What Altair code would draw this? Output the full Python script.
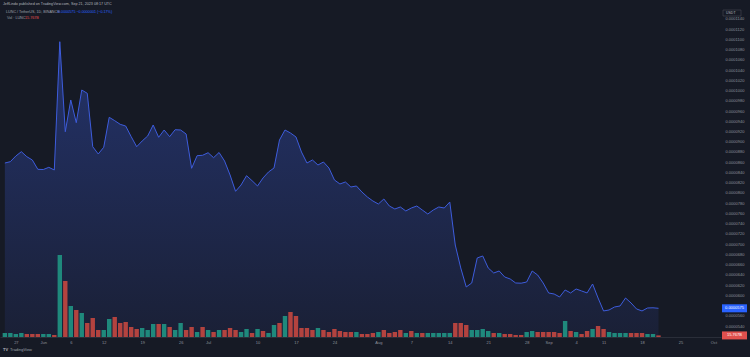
import altair as alt
import pandas as pd

# ---------------- data ----------------
# day index: 0 = May 27 2023, 117 = Sep 21 2023
day = list(range(-2, 118))
# LUNC/USDT daily close, in units of 1e-7 USDT
price_e7 = [
    858.5, 861.1, 872.2, 880.6, 870.8, 864.4, 846.2, 845.8, 850.1, 844.9,
    1095.2, 919.6, 981.5, 937.2, 1001.0, 994.5, 890.3, 876.1, 889.2, 947.7,
    941.1, 934.0, 930.7, 909.9, 890.3, 901.5, 911.2, 932.7, 908.7, 922.9,
    909.9, 923.5, 922.9, 915.1, 848.2, 872.8, 873.6, 878.6, 868.9, 879.0,
    862.4, 835.1, 803.3, 815.6, 833.8, 824.0, 813.7, 829.3, 841.0, 848.8,
    903.4, 922.9, 917.1, 909.3, 880.0, 858.5, 864.4, 854.6, 860.5, 848.8,
    825.4, 817.6, 821.5, 811.7, 813.7, 802.0, 792.2, 784.4, 778.5, 788.3,
    774.6, 768.8, 772.7, 764.9, 770.7, 774.6, 766.8, 759.0, 766.8, 772.7,
    770.7, 782.4, 698.5, 653.7, 616.6, 624.4, 673.2, 677.1, 653.7, 643.9,
    647.8, 636.1, 632.2, 624.4, 624.0, 626.3, 647.8, 640.0, 624.4, 604.9,
    602.9, 597.1, 610.7, 604.9, 612.7, 608.8, 605.0, 622.4, 595.1, 569.8,
    571.7, 577.6, 579.5, 595.1, 585.4, 573.7, 569.8, 575.6, 576.0, 575.0,
]
# daily volume, billions of LUNC
volume_b = [
    40, 40, 30, 40, 30, 30, 30, 30, 30, 20,
    820, 560, 310, 270, 240, 140, 190, 70, 70, 180,
    200, 140, 150, 100, 80, 90, 70, 130, 130, 130,
    100, 70, 140, 70, 100, 50, 100, 70, 50, 70,
    70, 90, 70, 50, 80, 40, 80, 60, 40, 120,
    140, 210, 250, 210, 90, 90, 70, 90, 70, 50,
    80, 60, 50, 50, 50, 30, 30, 40, 50, 70,
    40, 50, 70, 40, 60, 40, 40, 40, 40, 40,
    40, 40, 140, 140, 120, 70, 70, 80, 60, 40,
    40, 30, 30, 20, 20, 50, 60, 50, 50, 50,
    50, 40, 160, 60, 50, 30, 60, 80, 110, 80,
    50, 40, 40, 40, 40, 40, 40, 30, 30, 15.767,
]
# candle direction per day: U = up (teal), D = down (red)
direction = list(
    "UUUUDDDUUD"
    "UDUDUDDDUU"
    "DDDDDUUUDU"
    "DUUDDUDUDU"
    "DDDUUDUDUU"
    "DUDDDDDUDD"
    "DDDDUDDDUD"
    "DDDUDUDUUU"
    "UUDDDUUUUD"
    "UDDDDUUDDD"
    "DDUDUDDUDD"
    "UUUUDDDUUD"
)

tick_days = [0, 5, 10, 16, 23, 30, 35, 44, 51, 58, 66, 72, 79, 86, 93, 97, 102, 107, 114, 121, 127]
tick_labels = ["27", "Jun", "6", "12", "19", "26", "Jul", "10", "17", "24", "Aug",
               "7", "14", "21", "28", "Sep", "4", "11", "18", "25", "Oct"]
# 0.0000580 sits under the last-price box and is not shown
price_ticks_e7 = [540, 560, 600, 620, 640, 660, 680, 700, 720, 740, 760, 780, 800,
                  820, 840, 860, 880, 900, 920, 940, 960, 980, 1000, 1020, 1040, 1060,
                  1080, 1100, 1120, 1140]

header_lines = ["JeffLindo published on TradingView.com, Sep 21, 2023 08:17 UTC",
                "LUNC / TetherUS, 1D, BINANCE", "Vol · LUNC"]
header_value = "0.0000575   −0.0000001 (−0.17%)"
vol_value = "15.767B"
last_price_label = "0.0000575"

# ---------------- chart ----------------
BG = "#161a25"
TXT = "#8e929c"
W, H = 721, 337
PMIN, PMAX = 0.0000519, 0.00011766
VMAX = 3370

df = pd.DataFrame({
    "day": day,
    "price": [p * 1e-7 for p in price_e7],
    "volume": volume_b,
    "dir": direction,
})

xdef = alt.X(
    "day:Q",
    scale=alt.Scale(domain=[-1.975, 127.47], nice=False, zero=False),
    axis=alt.Axis(
        values=tick_days,
        labelExpr="[" + ",".join("'%s'" % t for t in tick_labels) + "][indexof(["
        + ",".join(str(t) for t in tick_days) + "], datum.value)]",
        labelFontSize=4, labelColor=TXT, labelPadding=3, labelFont="Liberation Sans",
        labelOverlap=False, labelFlush=False,
        domain=True, domainColor="#2a2e39", ticks=False, grid=False, title=None,
    ),
)
pscale = alt.Scale(domain=[PMIN, PMAX], nice=False, zero=False)
vscale = alt.Scale(domain=[0, VMAX], nice=False, zero=False)

base = alt.Chart(df)

area = base.mark_area(
    clip=True,
    color=alt.Gradient(
        gradient="linear",
        stops=[alt.GradientStop(color="#24336b", offset=0),
               alt.GradientStop(color="#1a2036", offset=1)],
        x1=1, x2=1, y1=0, y2=1,
    ),
).encode(
    x=xdef,
    y=alt.Y(
        "price:Q", scale=pscale,
        axis=alt.Axis(
            orient="right", values=[p * 1e-7 for p in price_ticks_e7], format=".7f",
            labelFontSize=4, labelColor=TXT, labelPadding=4, labelFont="Liberation Sans",
            labelOverlap=False, labelFlush=False,
            domain=False, ticks=False, grid=False, title=None,
        ),
    ),
    y2=alt.datum(PMIN),
)

bars = base.mark_bar(size=4.4, clip=True).encode(
    x=xdef,
    y=alt.Y("volume:Q", scale=vscale, axis=None),
    color=alt.Color("dir:N", scale=alt.Scale(domain=["U", "D"], range=["#1f897c", "#b3433f"]),
                    legend=None),
)

line = base.mark_line(clip=True, color="#3d5cdc", strokeWidth=1).encode(
    x=xdef,
    y=alt.Y("price:Q", scale=pscale, axis=None),
)

last = df.tail(1)
pbox = alt.Chart(last).mark_rect(color="#2962ff").encode(
    x=alt.value(722), x2=alt.value(747),
    y=alt.Y("hi:Q", scale=pscale, axis=None), y2="lo:Q",
).transform_calculate(hi="datum.price + 0.00000078", lo="datum.price - 0.00000078")
ptext = alt.Chart(pd.DataFrame({"t": [last_price_label], "p": [last["price"].iloc[0]]})).mark_text(
    fontSize=4, color="#ffffff", font="Liberation Sans", align="center", baseline="middle"
).encode(x=alt.value(734.5), y=alt.Y("p:Q", scale=pscale, axis=None), text="t:N")

vbox = alt.Chart(last).mark_rect(color="#e0504d").encode(
    x=alt.value(722), x2=alt.value(747),
    y=alt.Y("hi:Q", scale=vscale, axis=None), y2="lo:Q",
).transform_calculate(hi="datum.volume + 40", lo="datum.volume - 40")
vtext = alt.Chart(pd.DataFrame({"t": [vol_value], "v": [volume_b[-1]]})).mark_text(
    fontSize=4, color="#ffffff", font="Liberation Sans", align="center", baseline="middle"
).encode(x=alt.value(734.5), y=alt.Y("v:Q", scale=vscale, axis=None), text="t:N")

def label(text, x, y, color, size=3.7, weight="normal"):
    return alt.Chart(pd.DataFrame({"t": [text]})).mark_text(
        fontSize=size, color=color, font="Liberation Sans", align="left",
        baseline="middle", fontWeight=weight,
    ).encode(x=alt.value(x), y=alt.value(y), text="t:N")

h1 = label(header_lines[0], 3, 4, "#b2b5be")
h2 = label(header_lines[1], 6, 12, "#9da1ab")
h2b = label(header_value, 58, 12, "#2962ff")
h3 = label(header_lines[2], 7, 18, "#9da1ab")
h3b = label(vol_value, 25, 18, "#e0504d")

usdt_box = alt.Chart(pd.DataFrame({"a": [0]})).mark_rect(
    fill=BG, stroke="#50535e", strokeWidth=0.5
).encode(x=alt.value(723), x2=alt.value(741), y=alt.value(10), y2=alt.value(16))
usdt = label("USDT", 726, 13, "#b2b5be", size=3.5)

tv_logo = label("TV", 3, 350, "#b2b5be", size=4, weight="bold")
tv_text = label("TradingView", 10, 350, "#9da1ab", size=4)

chart = alt.layer(
    area, bars, line, pbox, ptext, vbox, vtext,
    h1, h2, h2b, h3, h3b, usdt_box, usdt, tv_logo, tv_text,
).resolve_scale(y="independent").properties(
    width=W, height=H,
    autosize=alt.AutoSizeParams(type="none"),
    padding={"left": 0, "top": 0, "right": 29, "bottom": 20},
    background=BG,
).configure_view(stroke=None, fill=BG)

chart.save("out.html", embed_options={"renderer": "svg", "actions": False})
